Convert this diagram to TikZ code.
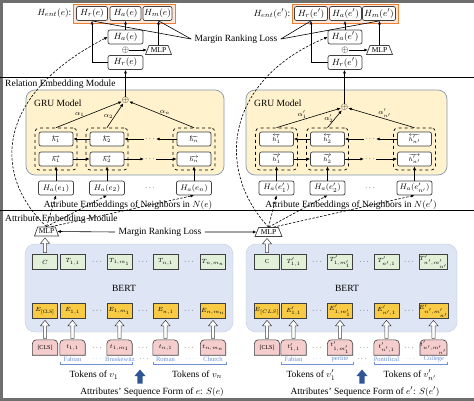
\documentclass[tikz,border=0pt]{standalone}
\usepackage{fontspec}
\setmainfont{Liberation Serif}
\usetikzlibrary{shapes.geometric,arrows.meta,calc}
\pgfdeclarelayer{background}
\pgfsetlayers{background,main}
\definecolor{peach}{HTML}{FBE5D6}
\definecolor{orng}{HTML}{ED7D31}
\definecolor{gruy}{HTML}{FFF2CC}
\definecolor{grub}{HTML}{8497B0}
\definecolor{bertb}{HTML}{DEE5F4}
\definecolor{tgreen}{HTML}{E2F0D9}
\definecolor{eyel}{HTML}{F9CB45}
\definecolor{tpink}{HTML}{F6CDCD}
\definecolor{wblue}{HTML}{6F8FD6}
\definecolor{darrow}{HTML}{2F5597}
\definecolor{framec}{HTML}{6E6E6E}
\definecolor{bord}{HTML}{404040}
\newcommand{\hollowup}[2]{\draw[hollow] let \p1=(#1), \p2=(#2) in
 (\x1-1.7pt,\y1+1.5pt) -- (\x1-1.7pt,\y2-7pt) -- (\x1-4.5pt,\y2-7pt) -- (\x1,\y2-1.5pt) -- (\x1+4.5pt,\y2-7pt) -- (\x1+1.7pt,\y2-7pt) -- (\x1+1.7pt,\y1+1.5pt) -- cycle;}
\newcommand{\bluearrow}[1]{\fill[darrow] let \p1=(#1) in
 (\x1-2.6pt,\y1-6.5pt) -- (\x1-2.6pt,\y1+1pt) -- (\x1-5.5pt,\y1+1pt) -- (\x1,\y1+7.5pt) -- (\x1+5.5pt,\y1+1pt) -- (\x1+2.6pt,\y1+1pt) -- (\x1+2.6pt,\y1-6.5pt) -- cycle;}
\begin{document}
\begin{tikzpicture}[x=1pt,y=-1pt, font=\fontsize{9.5}{10.5}\selectfont,
  hb/.style={draw=bord, line width=0.7pt, rounded corners=2pt, fill=white, minimum width=33pt, minimum height=14pt, inner sep=0pt, font=\fontsize{9.5}{10}\selectfont},
  hs/.style={draw=bord, line width=0.7pt, rounded corners=2pt, fill=white, minimum width=34pt, minimum height=14pt, inner sep=0pt, font=\fontsize{6.5}{7}\selectfont},
  grp/.style={draw=black, dashed, line width=0.7pt, rounded corners=4pt, minimum width=42pt, minimum height=42pt, inner sep=0pt},
  obox/.style={draw=orng, fill=peach, line width=0.9pt, minimum height=19pt, inner sep=0pt},
  gru/.style={draw=grub, fill=gruy, line width=0.7pt, rounded corners=9pt, inner sep=0pt},
  bert/.style={draw=bertb!85!black, fill=bertb, line width=0.3pt, rounded corners=10pt, inner sep=0pt},
  arr/.style={line width=0.6pt, -{Latex[length=3.5pt,width=3pt]}},
  ln/.style={line width=0.6pt},
  dsh/.style={line width=0.6pt, dash pattern=on 2.5pt off 1.5pt, -{Latex[length=3.5pt,width=3pt]}},
  hollow/.style={draw=bord, fill=white, line width=0.5pt},
  mlp/.style={trapezium, trapezium angle=60, trapezium stretches=true, draw=bord, line width=0.7pt, fill=white, minimum width=26pt, minimum height=9pt, inner sep=0pt, font=\fontsize{7.5}{8}\selectfont},
  tb/.style={draw=bord, line width=0.6pt, fill=tgreen, minimum width=25pt, minimum height=15pt, inner sep=0pt, font=\fontsize{6}{7}\selectfont},
  eb/.style={draw=bord, line width=0.6pt, fill=eyel, minimum width=25pt, minimum height=15pt, inner sep=0pt, font=\fontsize{6}{7}\selectfont},
  tk/.style={minimum width=25pt, minimum height=15pt, inner sep=0pt, font=\fontsize{6}{7}\selectfont},
  tab/.style={draw=bord, fill=tpink, line width=0.6pt},
  dots/.style={inner sep=1pt, font=\fontsize{7}{8}\selectfont},
  wd/.style={text=wblue, font=\fontsize{6.5}{7}\selectfont, inner sep=0pt},
  al/.style={font=\fontsize{7}{8}\selectfont, inner sep=1pt},
]
\useasboundingbox (0,0) rectangle (474,400);
\draw[framec, line width=5pt] (474,0) -- (0,0) -- (0,400) -- (474,400);

% ---------------- top: entity representations ----------------
\node[obox, minimum width=102pt] (entL) at (124,13.5) {};
\node[hb, minimum width=31pt] (HrTL) at (92,13.5) {$H_r(e)$};
\node[hb, minimum width=31pt] (HaTL) at (125.5,13.5) {$H_a(e)$};
\node[hb, minimum width=29pt] (HmTL) at (157.5,13.5) {$H_m(e)$};
\node[anchor=east, inner sep=1pt] (entLabL) at (entL.west) {$H_{ent}(e)$:};
\node[hb, minimum width=35pt] (HaML) at (125.5,37) {$H_a(e)$};
\node[inner sep=0pt] (opTL) at (125.5,50) {$\oplus$};
\node[hb, minimum width=35pt] (HrML) at (125.5,62.5) {$H_r(e)$};
\node[mlp] (mlpTL) at (158.5,50) {MLP};

\node[obox, minimum width=106pt] (entR) at (345,13.5) {};
\node[hb, minimum width=33pt] (HrTR) at (311,13.5) {$H_r(e')$};
\node[hb, minimum width=32pt] (HaTR) at (345.5,13.5) {$H_a(e')$};
\node[hb, minimum width=33pt] (HmTR) at (379,13.5) {$H_m(e')$};
\node[anchor=east, inner sep=1pt] (entLabR) at (entR.west) {$H_{ent}(e')$:};
\node[hb, minimum width=34pt] (HaMR) at (345,37) {$H_a(e')$};
\node[inner sep=0pt] (opTR) at (345,50) {$\oplus$};
\node[hb, minimum width=34pt] (HrMR) at (345,62.5) {$H_r(e')$};
\node[mlp] (mlpTR) at (379.5,50) {MLP};

\node (mrTop) at (236,39) {Margin Ranking Loss};

\draw[arr] (HrML.west) -| (HrTL.south);
\draw[arr] (HaML.north) -- (HaTL.south);
\draw[arr] (opTL.east) -- (mlpTL.west);
\draw[arr] (mlpTL.north) -- (mlpTL.north |- HmTL.south);
\draw[arr] (HrMR.west) -| (HrTR.south);
\draw[arr] (HaMR.north) -- (HaMR.north |- HaTR.south);
\draw[arr] (opTR.east) -- (mlpTR.west);
\draw[arr] (mlpTR.north) -- (mlpTR.north |- HmTR.south);
\draw[ln] (mrTop.west) -- (HrTL.south);
\draw[ln] (mrTop.west) -- (mlpTL.north |- HmTL.south);
\draw[ln] (mrTop.east) -- (HrTR.south);
\draw[ln] (mrTop.east) -- (mlpTR.north |- HmTR.south);

% ---------------- relation embedding module ----------------
\draw[line width=0.8pt] (0,77) -- (474,77);
\node[anchor=west, inner sep=1pt] (relLab) at (4,84) {Relation Embedding Module};

\node[gru, minimum width=198pt, minimum height=85pt] (gruL) at (125,132.5) {};
\node[gru, minimum width=201pt, minimum height=85pt] (gruR) at (346.5,132.5) {};
\node[anchor=west, inner sep=1pt] (gruLabL) at (33,103) {GRU Model};
\node[anchor=west, inner sep=1pt] (gruLabR) at (253,103) {GRU Model};
\node[inner sep=0pt] (opGL) at (125.5,100) {$\oplus$};
\node[inner sep=0pt] (opGR) at (344.5,107) {$\oplus$};
\draw[arr] (opGL.north) -- (HrML.south);
\draw[arr] (opGR.north) -- (opGR.north |- HrMR.south);

% left GRU
\foreach \n/\x in {1/56,2/107,n/194}{
  \node[grp] (LG\n) at (\x,149) {};
  \node[hs] (LB\n) at (\x,139) {$\overleftarrow{h_{\n}}$};
  \node[hs] (LF\n) at (\x,159) {$\overrightarrow{h_{\n}}$};
  \node[hb, minimum width=35pt, font=\fontsize{8.5}{9}\selectfont] (LHa\n) at (\x,188) {$H_a(e_{\n})$};
  \draw[arr] (LHa\n.north) -- (LF\n.south);
}
\node[dots] (LdB) at (150,139) {$\cdots$};
\node[dots] (LdF) at (150,159) {$\cdots$};
\node[dots] (LdH) at (150,188) {$\cdots$};
\draw[arr] (LB2.west) -- (LB1.east);
\draw[arr] (LdB.west) -- (LB2.east);
\draw[arr] (LBn.west) -- (LdB.east);
\draw[arr] (LF1.east) -- (LF2.west);
\draw[arr] (LF2.east) -- (LdF.west);
\draw[arr] (LdF.east) -- (LFn.west);
\draw[arr] (LG1.north) -- (opGL) node[al, pos=0.36, above] {$\alpha_1$};
\draw[arr] (LG2.north) -- (opGL) node[al, pos=0.45, left] {$\alpha_2$};
\draw[arr] (LGn.north) -- (opGL) node[al, pos=0.45, above] {$\alpha_n$};

% right GRU
\foreach \n/\x/\s in {1/276.5/1,2/327.5/2,n/414.5/{n'}}{
  \node[grp] (RG\n) at (\x,149) {};
  \node[hs] (RB\n) at (\x,139) {$\overleftarrow{h'_{\s}}$};
  \node[hs] (RF\n) at (\x,159) {$\overrightarrow{h'_{\s}}$};
  \node[hb, minimum width=35pt, font=\fontsize{8.5}{9}\selectfont] (RHa\n) at (\x,188) {$H_a(e'_{\s})$};
  \draw[arr] (RHa\n.north) -- (RF\n.south);
}
\node[dots] (RdB) at (370,139) {$\cdots$};
\node[dots] (RdF) at (370,159) {$\cdots$};
\node[dots] (RdH) at (370,188) {$\cdots$};
\draw[arr] (RB2.west) -- (RB1.east);
\draw[arr] (RdB.west) -- (RB2.east);
\draw[arr] (RBn.west) -- (RdB.east);
\draw[arr] (RF1.east) -- (RF2.west);
\draw[arr] (RF2.east) -- (RdF.west);
\draw[arr] (RdF.east) -- (RFn.west);
\draw[arr] (RG1.north) -- (opGR) node[al, pos=0.4, above] {$\alpha'_1$};
\draw[arr] (RG2.north) -- (opGR) node[al, pos=0.5, left] {$\alpha'_2$};
\draw[arr] (RGn.north) -- (opGR) node[al, pos=0.45, above] {$\alpha'_{n'}$};

\node[inner sep=1pt] (nbL) at (128,205) {Attribute Embeddings of Neighbors in $N(e)$};
\node[inner sep=1pt] (nbR) at (351,205) {Attribute Embeddings of Neighbors in $N(e')$};

% ---------------- attribute embedding module ----------------
\draw[line width=0.8pt] (0,210) -- (474,210);
\node[anchor=west, inner sep=1pt] (attLab) at (4,219) {Attribute Embedding Module};
\node[mlp, minimum width=24pt] (mlpAL) at (46.5,231.5) {MLP};
\node[mlp, minimum width=27pt] (mlpAR) at (268.5,232) {MLP};
\node (mrAtt) at (160,232) {Margin Ranking Loss};
\draw[arr] (mrAtt.west) -- (mlpAL.east);
\draw[arr] (mrAtt.east) -- (mlpAR.west);

% dashed links from attribute MLPs
\draw[dsh] (mlpAL.north) .. controls (-8,175) and (-5,95) .. (HaML.west);
\draw[dsh] (mlpAL.north) -- (LHa1.south);
\draw[dsh] (mlpAL.north) -- (LHa2.south);
\draw[dsh] (mlpAL.north east) -- (LHan.south);
\draw[dsh] (mlpAR.north) .. controls (215,170) and (225,80) .. (HaMR.west);
\draw[dsh] (mlpAR.north) -- (RHa1.south);
\draw[dsh] (mlpAR.north) -- (RHa2.south);
\draw[dsh] (mlpAR.north east) -- (RHan.south);

% BERT boxes
\node[bert, minimum width=208pt, minimum height=88pt] (bertL) at (129,288) {};
\node[bert, minimum width=211pt, minimum height=88pt] (bertR) at (351.5,288) {};
\node (bertLabL) at (124,288) {BERT};
\node (bertLabR) at (347,288) {BERT};

% left BERT columns
\foreach \i/\x/\tl/\el/\kl in {0/45/{$C$}/{$E_{[\mathrm{CLS}]}$}/{[CLS]},
  1/72.5/{$T_{1,1}$}/{$E_{1,1}$}/{$t_{1,1}$},
  2/119.5/{$T_{1,m_1}$}/{$E_{1,m_1}$}/{$t_{1,m_1}$},
  3/165.5/{$T_{n,1}$}/{$E_{n,1}$}/{$t_{n,1}$},
  4/213/{$T_{n,m_n}$}/{$E_{n,m_n}$}/{$t_{n,m_n}$}}{
  \node[tb] (LT\i) at (\x,262) {\tl};
  \node[eb] (LE\i) at (\x,311) {\el};
  \node[tk] (Lt\i) at (\x,347.5) {\kl};
  \begin{pgfonlayer}{background}
  \draw[tab] (Lt\i.south west) [rounded corners=4pt] -- (Lt\i.north west) -- (Lt\i.north east) [sharp corners] -- (Lt\i.south east) -- cycle;
  \end{pgfonlayer}
  \hollowup{Lt\i.north}{LE\i.south}
}
\foreach \j/\x in {1/97,2/143,3/189}{
  \node[dots] (LdT\j) at (\x,262) {$\cdots$};
  \node[dots] (LdE\j) at (\x,311) {$\cdots$};
  \node[dots] (Ldt\j) at (\x,347.5) {$\cdots$};
}
\hollowup{LT0.north}{mlpAL.south}

% right BERT columns
\foreach \i/\x/\tl/\el/\kl in {0/267/{C}/{$E_{[CLS]}$}/{[CLS]},
  1/293.5/{$T'_{1,1}$}/{$E'_{1,1}$}/{$t'_{1,1}$},
  2/340/{$T'_{1,m'_1}$}/{$E'_{1,m'_1}$}/{$t'_{1,m'_1}$},
  3/386.5/{$T'_{n',1}$}/{$E'_{n',1}$}/{$t'_{n',1}$},
  4/433.5/{$T'_{n',m'_{n'}}$}/{$E'_{n',m'_{n'}}$}/{$t'_{n',m'_{n'}}$}}{
  \node[tb] (RT\i) at (\x,262) {\tl};
  \node[eb] (RE\i) at (\x,311) {\el};
  \node[tk] (Rt\i) at (\x,347.5) {\kl};
  \begin{pgfonlayer}{background}
  \draw[tab] (Rt\i.south west) [rounded corners=4pt] -- (Rt\i.north west) -- (Rt\i.north east) [sharp corners] -- (Rt\i.south east) -- cycle;
  \end{pgfonlayer}
  \hollowup{Rt\i.north}{RE\i.south}
}
\foreach \j/\x in {1/317,2/364,3/409}{
  \node[dots] (RdT\j) at (\x,262) {$\cdots$};
  \node[dots] (RdE\j) at (\x,311) {$\cdots$};
  \node[dots] (Rdt\j) at (\x,347.5) {$\cdots$};
}
\hollowup{RT0.north}{mlpAR.south}

% words
\node[wd] (wL1) at (72.5,359) {Fabian};
\node[wd] (wL2) at (97,359) {$\cdots$};
\node[wd] (wL3) at (120,359) {Bruskewitz};
\node[dots, font=\fontsize{6.5}{7}\selectfont] (wL4) at (144,359) {$\cdots$};
\node[wd] (wL5) at (165.5,359) {Roman};
\node[wd] (wL6) at (190,359) {$\cdots$};
\node[wd] (wL7) at (213,359) {Church};
\node[wd] (wR1) at (293.5,359) {Fabian};
\node[wd] (wR2) at (317,359) {$\cdots$};
\node[wd] (wR3) at (340,359) {perlite};
\node[dots, font=\fontsize{6.5}{7}\selectfont] (wR4) at (362,359) {$\cdots$};
\node[wd] (wR5) at (386.5,359) {Pontifical};
\node[wd] (wR6) at (410,359) {$\cdots$};
\node[wd] (wR7) at (434,359) {College};
\draw[wblue, line width=0.5pt] (60,362) -- (60,364.5) -- (132,364.5) -- (132,362);
\draw[wblue, line width=0.5pt] (153,362) -- (153,364.5) -- (226,364.5) -- (226,362);
\draw[wblue, line width=0.5pt] (281,362) -- (281,364.5) -- (353,364.5) -- (353,362);
\draw[wblue, line width=0.5pt] (374,362) -- (374,364.5) -- (447,364.5) -- (447,362);

\node (tokL1) at (94,375) {Tokens of $v_1$};
\node (tokLn) at (197,375) {Tokens of $v_n$};
\node (tokR1) at (311,375) {Tokens of $v'_1$};
\node (tokRn) at (410,375) {Tokens of $v'_{n'}$};
\coordinate (bluL) at (140,377);
\coordinate (bluR) at (362,377);
\bluearrow{bluL}
\bluearrow{bluR}
\node (seqL) at (152,392) {Attributes' Sequence Form of $e$: $S(e)$};
\node (seqR) at (365,392) {Attributes' Sequence Form of $e'$: $S(e')$};
\end{tikzpicture}
\end{document}
